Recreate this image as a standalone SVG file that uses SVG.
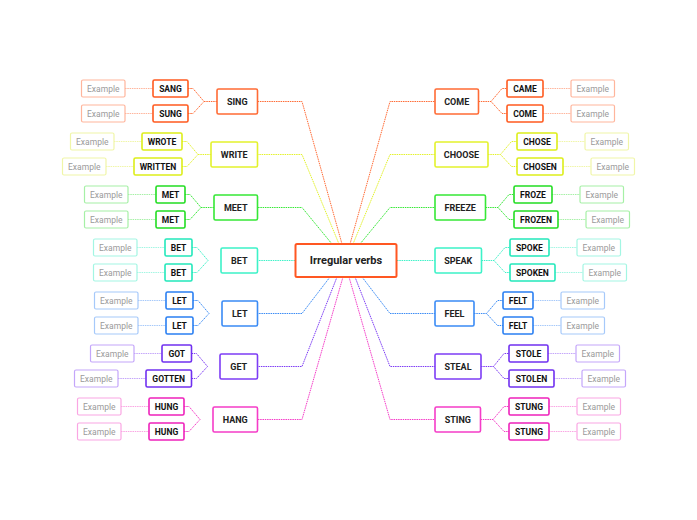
<svg xmlns="http://www.w3.org/2000/svg" width="697" height="520" viewBox="0 0 697 520">
<style>
rect{fill:#fff;rx:1.5;ry:1.5}
.m{stroke-width:1.6}
.c{stroke-width:1.6}
.e{stroke-width:1.2}
path{fill:none;stroke-width:1;stroke-dasharray:1.5 0.8}
.tm{font-family:Roboto,"Liberation Sans",sans-serif;font-size:9px;font-weight:700;fill:#222;text-anchor:middle;dominant-baseline:central}
.tc{font-family:Roboto,"Liberation Sans",sans-serif;font-size:8.5px;font-weight:700;fill:#111;text-anchor:middle;dominant-baseline:central}
.te{font-family:Roboto,"Liberation Sans",sans-serif;font-size:8.5px;fill:#9a9a9a;text-anchor:middle;dominant-baseline:central}
.o .m,.o .lm{stroke:#FF6B35}.o .c{stroke:#FF5A1F}.o .e,.o .le{stroke:#FFB59C}
.y .m,.y .lm{stroke:#E3F22C}.y .c{stroke:#DDEE1A}.y .e,.y .le{stroke:#F0F6A8}
.g .m,.g .lm{stroke:#36E836}.g .c{stroke:#22DD22}.g .e,.g .le{stroke:#A6F0A6}
.t .m,.t .lm{stroke:#3DF2C8}.t .c{stroke:#22E8BB}.t .e,.t .le{stroke:#A3F6E3}
.b .m,.b .lm{stroke:#3A8BF5}.b .c{stroke:#2A7FF2}.b .e,.b .le{stroke:#A6C9FA}
.p .m,.p .lm{stroke:#7D3CF5}.p .c{stroke:#7030F0}.p .e,.p .le{stroke:#C4A6FA}
.k .m,.k .lm{stroke:#F53CC8}.k .c{stroke:#EE22BB}.k .e,.k .le{stroke:#FAA6E3}
</style>
<g id="connectors">
<g class="o">
<path class="lm" d="M342,244 L302,101.5 H217"/>
<path class="lm" d="M350,244 L390,101.5 H435"/>
<path class="lm" d="M188,88.5 H193 L204,101.5 M188,113.5 H193 L204,101.5 M204,101.5 H217"/>
<path class="lm" d="M478.5,101.5 H491 L502,88.5 H507 M491,101.5 L502,113.5 H507"/>
<path class="le" d="M125,88.5 H153 M125,113.5 H153 M543,88.5 H571 M543,113.5 H571"/>
</g>
<g class="y">
<path class="lm" d="M339,244 L302,154.5 H211"/>
<path class="lm" d="M353,244 L390,154.5 H435"/>
<path class="lm" d="M182,141.5 H187 L198,154.5 M182,166.5 H187 L198,154.5 M198,154.5 H211"/>
<path class="lm" d="M488,154.5 H500.5 L511.5,141.5 H517 M500.5,154.5 L511.5,166.5 H517"/>
<path class="le" d="M114,141.5 H142 M106,166.5 H134 M557,141.5 H585 M563,166.5 H591"/>
</g>
<g class="g">
<path class="lm" d="M332,244 L302,207.5 H214"/>
<path class="lm" d="M360,244 L390,207.5 H435"/>
<path class="lm" d="M185,194.5 H190 L201,207.5 M185,219.5 H190 L201,207.5 M201,207.5 H214"/>
<path class="lm" d="M485.5,207.5 H498 L509,194.5 H514 M498,207.5 L509,219.5 H514"/>
<path class="le" d="M128,194.5 H156 M128,219.5 H156 M552,194.5 H580 M558,219.5 H586"/>
</g>
<g class="t">
<path class="lm" d="M295,260.5 H221"/>
<path class="lm" d="M397,260.5 H435"/>
<path class="lm" d="M192,247.5 H197 L208,260.5 M192,272.5 H197 L208,260.5"/>
<path class="lm" d="M481.5,260.5 H494 L505,247.5 H510 M494,260.5 L505,272.5 H510"/>
<path class="le" d="M137,247.5 H165 M137,272.5 H165 M549,247.5 H577 M555,272.5 H583"/>
</g>
<g class="b">
<path class="lm" d="M330,277 L302,313.5 H222"/>
<path class="lm" d="M362,277 L390,313.5 H435"/>
<path class="lm" d="M193,300.5 H198 L209,313.5 M193,325.5 H198 L209,313.5"/>
<path class="lm" d="M474,313.5 H486.5 L497.5,300.5 H503 M486.5,313.5 L497.5,325.5 H503"/>
<path class="le" d="M138,300.5 H166 M138,325.5 H166 M533,300.5 H561 M533,325.5 H561"/>
</g>
<g class="p">
<path class="lm" d="M337,277 L302,366.5 H220"/>
<path class="lm" d="M355,277 L390,366.5 H435"/>
<path class="lm" d="M191.5,353.5 H196.5 L207.5,366.5 M191.5,378.5 H196.5 L207.5,366.5"/>
<path class="lm" d="M481,366.5 H493.5 L504,353.5 H509 M493.5,366.5 L504,378.5 H509"/>
<path class="le" d="M134,353.5 H162 M118,378.5 H146 M548,353.5 H576 M554,378.5 H582"/>
</g>
<g class="k">
<path class="lm" d="M343,277 L302,419.5 H213"/>
<path class="lm" d="M349,277 L390,419.5 H435"/>
<path class="lm" d="M184,406.5 H189 L200,419.5 M184,431.5 H189 L200,419.5"/>
<path class="lm" d="M480.5,419.5 H493 L504,406.5 H509 M493,419.5 L504,431.5 H509"/>
<path class="le" d="M121,406.5 H149 M121,431.5 H149 M549,406.5 H577 M549,431.5 H577"/>
</g>
</g>
<g id="center"><rect x="295.5" y="244" width="101" height="33" style="stroke:#FF5722;stroke-width:2"/><text class="tm" x="346" y="260.5" style="font-size:11px">Irregular verbs</text></g>

<g class="o">
<g id="sing"><rect class="m" x="217" y="89" width="40.5" height="25"/><text class="tm" x="237.25" y="101.5">SING</text></g>
<g id="sang"><rect class="c" x="153" y="80" width="35" height="17"/><text class="tc" x="170.5" y="88.5">SANG</text></g>
<g id="sung"><rect class="c" x="153" y="105" width="35" height="17"/><text class="tc" x="170.5" y="113.5">SUNG</text></g>
<g id="ex-sang"><rect class="e" x="81.5" y="80" width="43.5" height="17"/><text class="te" x="103.25" y="88.5">Example</text></g>
<g id="ex-sung"><rect class="e" x="81.5" y="105" width="43.5" height="17"/><text class="te" x="103.25" y="113.5">Example</text></g>
<g id="come"><rect class="m" x="435" y="89" width="43.5" height="25"/><text class="tm" x="456.75" y="101.5">COME</text></g>
<g id="came"><rect class="c" x="507" y="80" width="36" height="17"/><text class="tc" x="525" y="88.5">CAME</text></g>
<g id="come2"><rect class="c" x="507" y="105" width="36" height="17"/><text class="tc" x="525" y="113.5">COME</text></g>
<g id="ex-came"><rect class="e" x="571" y="80" width="43.5" height="17"/><text class="te" x="592.75" y="88.5">Example</text></g>
<g id="ex-come"><rect class="e" x="571" y="105" width="43.5" height="17"/><text class="te" x="592.75" y="113.5">Example</text></g>
</g>

<g class="y">
<g id="write"><rect class="m" x="211" y="142" width="46.5" height="25"/><text class="tm" x="234.25" y="154.5">WRITE</text></g>
<g id="wrote"><rect class="c" x="142" y="133" width="40" height="17"/><text class="tc" x="162" y="141.5">WROTE</text></g>
<g id="written"><rect class="c" x="134" y="158" width="48" height="17"/><text class="tc" x="158" y="166.5">WRITTEN</text></g>
<g id="ex-wrote"><rect class="e" x="70.5" y="133" width="43.5" height="17"/><text class="te" x="92.25" y="141.5">Example</text></g>
<g id="ex-written"><rect class="e" x="62.5" y="158" width="43.5" height="17"/><text class="te" x="84.25" y="166.5">Example</text></g>
<g id="choose"><rect class="m" x="435" y="142" width="53" height="25"/><text class="tm" x="461.5" y="154.5">CHOOSE</text></g>
<g id="chose"><rect class="c" x="517" y="133" width="40" height="17"/><text class="tc" x="537" y="141.5">CHOSE</text></g>
<g id="chosen"><rect class="c" x="517" y="158" width="46" height="17"/><text class="tc" x="540" y="166.5">CHOSEN</text></g>
<g id="ex-chose"><rect class="e" x="585" y="133" width="43.5" height="17"/><text class="te" x="606.75" y="141.5">Example</text></g>
<g id="ex-chosen"><rect class="e" x="591" y="158" width="43.5" height="17"/><text class="te" x="612.75" y="166.5">Example</text></g>
</g>

<g class="g">
<g id="meet"><rect class="m" x="214" y="195" width="43.5" height="25"/><text class="tm" x="235.75" y="207.5">MEET</text></g>
<g id="met1"><rect class="c" x="156" y="186" width="29" height="17"/><text class="tc" x="170.5" y="194.5">MET</text></g>
<g id="met2"><rect class="c" x="156" y="211" width="29" height="17"/><text class="tc" x="170.5" y="219.5">MET</text></g>
<g id="ex-met1"><rect class="e" x="84.5" y="186" width="43.5" height="17"/><text class="te" x="106.25" y="194.5">Example</text></g>
<g id="ex-met2"><rect class="e" x="84.5" y="211" width="43.5" height="17"/><text class="te" x="106.25" y="219.5">Example</text></g>
<g id="freeze"><rect class="m" x="435" y="195" width="50.5" height="25"/><text class="tm" x="460.25" y="207.5">FREEZE</text></g>
<g id="froze"><rect class="c" x="514" y="186" width="38" height="17"/><text class="tc" x="533" y="194.5">FROZE</text></g>
<g id="frozen"><rect class="c" x="514" y="211" width="44" height="17"/><text class="tc" x="536" y="219.5">FROZEN</text></g>
<g id="ex-froze"><rect class="e" x="580" y="186" width="43.5" height="17"/><text class="te" x="601.75" y="194.5">Example</text></g>
<g id="ex-frozen"><rect class="e" x="586" y="211" width="43.5" height="17"/><text class="te" x="607.75" y="219.5">Example</text></g>
</g>

<g class="t">
<g id="bet"><rect class="m" x="221" y="248" width="36.5" height="25"/><text class="tm" x="239.25" y="260.5">BET</text></g>
<g id="bet1"><rect class="c" x="165" y="239" width="27" height="17"/><text class="tc" x="178.5" y="247.5">BET</text></g>
<g id="bet2"><rect class="c" x="165" y="264" width="27" height="17"/><text class="tc" x="178.5" y="272.5">BET</text></g>
<g id="ex-bet1"><rect class="e" x="93.5" y="239" width="43.5" height="17"/><text class="te" x="115.25" y="247.5">Example</text></g>
<g id="ex-bet2"><rect class="e" x="93.5" y="264" width="43.5" height="17"/><text class="te" x="115.25" y="272.5">Example</text></g>
<g id="speak"><rect class="m" x="435" y="248" width="46.5" height="25"/><text class="tm" x="458.25" y="260.5">SPEAK</text></g>
<g id="spoke"><rect class="c" x="510" y="239" width="39" height="17"/><text class="tc" x="529.5" y="247.5">SPOKE</text></g>
<g id="spoken"><rect class="c" x="510" y="264" width="45" height="17"/><text class="tc" x="532.5" y="272.5">SPOKEN</text></g>
<g id="ex-spoke"><rect class="e" x="577" y="239" width="43.5" height="17"/><text class="te" x="598.75" y="247.5">Example</text></g>
<g id="ex-spoken"><rect class="e" x="583" y="264" width="43.5" height="17"/><text class="te" x="604.75" y="272.5">Example</text></g>
</g>

<g class="b">
<g id="let"><rect class="m" x="222" y="301" width="35.5" height="25"/><text class="tm" x="239.75" y="313.5">LET</text></g>
<g id="let1"><rect class="c" x="166" y="292" width="27" height="17"/><text class="tc" x="179.5" y="300.5">LET</text></g>
<g id="let2"><rect class="c" x="166" y="317" width="27" height="17"/><text class="tc" x="179.5" y="325.5">LET</text></g>
<g id="ex-let1"><rect class="e" x="94.5" y="292" width="43.5" height="17"/><text class="te" x="116.25" y="300.5">Example</text></g>
<g id="ex-let2"><rect class="e" x="94.5" y="317" width="43.5" height="17"/><text class="te" x="116.25" y="325.5">Example</text></g>
<g id="feel"><rect class="m" x="435" y="301" width="39" height="25"/><text class="tm" x="454.5" y="313.5">FEEL</text></g>
<g id="felt1"><rect class="c" x="503" y="292" width="30" height="17"/><text class="tc" x="518" y="300.5">FELT</text></g>
<g id="felt2"><rect class="c" x="503" y="317" width="30" height="17"/><text class="tc" x="518" y="325.5">FELT</text></g>
<g id="ex-felt1"><rect class="e" x="561" y="292" width="43.5" height="17"/><text class="te" x="582.75" y="300.5">Example</text></g>
<g id="ex-felt2"><rect class="e" x="561" y="317" width="43.5" height="17"/><text class="te" x="582.75" y="325.5">Example</text></g>
</g>

<g class="p">
<g id="get"><rect class="m" x="220" y="354" width="37.5" height="25"/><text class="tm" x="238.75" y="366.5">GET</text></g>
<g id="got"><rect class="c" x="162" y="345" width="29.5" height="17"/><text class="tc" x="176.75" y="353.5">GOT</text></g>
<g id="gotten"><rect class="c" x="146" y="370" width="45.5" height="17"/><text class="tc" x="168.75" y="378.5">GOTTEN</text></g>
<g id="ex-got"><rect class="e" x="90.5" y="345" width="43.5" height="17"/><text class="te" x="112.25" y="353.5">Example</text></g>
<g id="ex-gotten"><rect class="e" x="74.5" y="370" width="43.5" height="17"/><text class="te" x="96.25" y="378.5">Example</text></g>
<g id="steal"><rect class="m" x="435" y="354" width="46" height="25"/><text class="tm" x="458" y="366.5">STEAL</text></g>
<g id="stole"><rect class="c" x="509" y="345" width="39" height="17"/><text class="tc" x="528.5" y="353.5">STOLE</text></g>
<g id="stolen"><rect class="c" x="509" y="370" width="45" height="17"/><text class="tc" x="531.5" y="378.5">STOLEN</text></g>
<g id="ex-stole"><rect class="e" x="576" y="345" width="43.5" height="17"/><text class="te" x="597.75" y="353.5">Example</text></g>
<g id="ex-stolen"><rect class="e" x="582" y="370" width="43.5" height="17"/><text class="te" x="603.75" y="378.5">Example</text></g>
</g>

<g class="k">
<g id="hang"><rect class="m" x="213" y="407" width="44.5" height="25"/><text class="tm" x="235.25" y="419.5">HANG</text></g>
<g id="hung1"><rect class="c" x="149" y="398" width="35" height="17"/><text class="tc" x="166.5" y="406.5">HUNG</text></g>
<g id="hung2"><rect class="c" x="149" y="423" width="35" height="17"/><text class="tc" x="166.5" y="431.5">HUNG</text></g>
<g id="ex-hung1"><rect class="e" x="77.5" y="398" width="43.5" height="17"/><text class="te" x="99.25" y="406.5">Example</text></g>
<g id="ex-hung2"><rect class="e" x="77.5" y="423" width="43.5" height="17"/><text class="te" x="99.25" y="431.5">Example</text></g>
<g id="sting"><rect class="m" x="435" y="407" width="45.5" height="25"/><text class="tm" x="457.75" y="419.5">STING</text></g>
<g id="stung1"><rect class="c" x="509" y="398" width="40" height="17"/><text class="tc" x="529" y="406.5">STUNG</text></g>
<g id="stung2"><rect class="c" x="509" y="423" width="40" height="17"/><text class="tc" x="529" y="431.5">STUNG</text></g>
<g id="ex-stung1"><rect class="e" x="577" y="398" width="43.5" height="17"/><text class="te" x="598.75" y="406.5">Example</text></g>
<g id="ex-stung2"><rect class="e" x="577" y="423" width="43.5" height="17"/><text class="te" x="598.75" y="431.5">Example</text></g>
</g>
</svg>
